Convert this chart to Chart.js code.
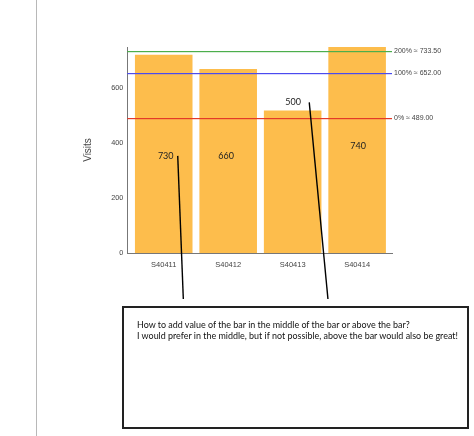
<!DOCTYPE html>
<html>
<head>
<meta charset="utf-8">
<script src="https://cdn.jsdelivr.net/npm/chart.js@4"></script>
<style>
    html, body { margin: 0; padding: 0; background: #fff; }
    #wrap { position: relative; width: 474px; height: 436px; overflow: hidden; }
    #leftRule { position: absolute; left: 36px; top: 0; width: 1px; height: 436px; background: #b8b8b8; }
    #note {
        position: absolute; left: 122px; top: 306px; width: 343px; height: 119px;
        border: 2px solid #222; box-sizing: content-box;
        font-family: Lato, "Open Sans", sans-serif; font-size: 8.95px; line-height: 11.3px; color: #111;
    }
    #note p { margin: 11px 0 0 13px; white-space: nowrap; }
</style>
</head>
<body>
<div id="wrap">
    <canvas id="resultsChart" width="474" height="436"></canvas>
    <div id="leftRule"></div>
    <div id="note"><p>How to add value of the bar in the middle of the bar or above the bar?<br>I would prefer in the middle, but if not possible, above the bar would also be great!</p></div>
</div>
<script>
const categories = ['S40411', 'S40412', 'S40413', 'S40414'];
const visits = [719, 667, 517, 747];
const valueLabels = ['730', '660', '500', '740'];
const yTicks = [0, 200, 400, 600];
const refValues = [733.5, 652, 489];
const refLabels = ['200% \u2248 733.50', '100% \u2248 652.00', '0% \u2248 489.00'];
const refColors = ['#4cae4c', '#4a4af0', '#e43a28'];

document.addEventListener('DOMContentLoaded', () => {
    const ctx = document.getElementById('resultsChart').getContext('2d');

    // horizontal reference lines with their labels on the right
    const refLinesPlugin = {
        id: 'refLines',
        afterDatasetsDraw(chart) {
            const c = chart.ctx;
            const area = chart.chartArea;
            const y = chart.scales.y;
            c.save();
            refValues.forEach((v, i) => {
                const py = Math.round(y.getPixelForValue(v));
                c.fillStyle = refColors[i];
                c.fillRect(area.left, py, area.right - area.left, 1.2);
                c.fillStyle = '#444';
                c.font = '7px Arial, "Liberation Sans", sans-serif';
                c.textBaseline = 'middle';
                c.textAlign = 'left';
                c.fillText(refLabels[i], area.right + 2, py + 0.5);
            });
            c.restore();
        }
    };

    // value text in the middle of the bar, or above it
    const valueLabelPlugin = {
        id: 'valueLabels',
        afterDatasetsDraw(chart, args, opts) {
            const c = chart.ctx;
            const meta = chart.getDatasetMeta(0);
            c.save();
            c.fillStyle = '#222';
            c.font = '9px Lato, "Open Sans", sans-serif';
            c.textAlign = 'center';
            c.textBaseline = 'middle';
            meta.data.forEach((bar, i) => {
                const base = opts.above.includes(i) ? bar.y : (bar.y + bar.base) / 2;
                c.fillText(valueLabels[i], bar.x + opts.dx[i], base + opts.dy[i]);
            });
            c.restore();
        }
    };

    // the hand drawn pointers from the labels down to the question box
    const pointerPlugin = {
        id: 'pointers',
        afterDraw(chart, args, opts) {
            const c = chart.ctx;
            const meta = chart.getDatasetMeta(0);
            c.save();
            c.strokeStyle = '#000';
            c.lineWidth = 1.4;
            opts.from.forEach((idx, k) => {
                const bar = meta.data[idx];
                const sx = bar.x + opts.startDx[k];
                const sy = opts.above.includes(idx) ? bar.y - 8 : (bar.y + bar.base) / 2 + 2;
                c.beginPath();
                c.moveTo(sx, sy);
                c.lineTo(sx + opts.endDx[k], opts.endY);
                c.stroke();
            });
            c.restore();
        }
    };

    new Chart(ctx, {
        type: 'bar',
        data: {
            datasets: [{
                label: 'Visits',
                data: visits.map((v, i) => ({ x: i, y: v })),
                backgroundColor: '#fdbd4c',
                borderWidth: 0,
                barPercentage: 0.893,
                categoryPercentage: 1.0
            }]
        },
        options: {
            responsive: false,
            animation: false,
            events: [],
            layout: {
                padding: { top: 47, right: 82, bottom: 0, left: 78 }
            },
            scales: {
                x: {
                    type: 'linear',
                    min: -0.565,
                    max: 3.541,
                    offset: false,
                    grid: { display: false, drawTicks: false },
                    border: { display: true, color: '#777', width: 1 },
                    afterBuildTicks(scale) {
                        scale.ticks = categories.map((c, i) => ({ value: i }));
                    },
                    ticks: {
                        color: '#444',
                        padding: 7,
                        callback: (v) => categories[v],
                        font: { family: 'Arial, "Liberation Sans", sans-serif', size: 7.5 }
                    },
                    afterFit(scale) { scale.height = 183; }
                },
                y: {
                    min: 0,
                    max: 747,
                    grid: { display: false, drawTicks: false },
                    border: { display: true, color: '#777', width: 1 },
                    afterBuildTicks(scale) {
                        scale.ticks = yTicks.map(v => ({ value: v }));
                    },
                    ticks: {
                        color: '#444',
                        padding: 4,
                        font: { family: 'Arial, "Liberation Sans", sans-serif', size: 7.3 }
                    },
                    title: {
                        display: true,
                        text: 'Visits',
                        color: '#444',
                        padding: { top: 4, bottom: 0 },
                        font: { family: 'Arial, "Liberation Sans", sans-serif', size: 10 }
                    },
                    afterFit(scale) { scale.width = 49.3; }
                }
            },
            plugins: {
                legend: { display: false },
                tooltip: { enabled: false },
                valueLabels: { above: [2], dx: [2, -2, 0.5, 1], dy: [2, -5, -8, -4] },
                pointers: { from: [0, 2], startDx: [14, 16.6], endDx: [5.6, 18.7], endY: 299, above: [2] }
            }
        },
        plugins: [refLinesPlugin, valueLabelPlugin, pointerPlugin]
    });
});
</script>
</body>
</html>
